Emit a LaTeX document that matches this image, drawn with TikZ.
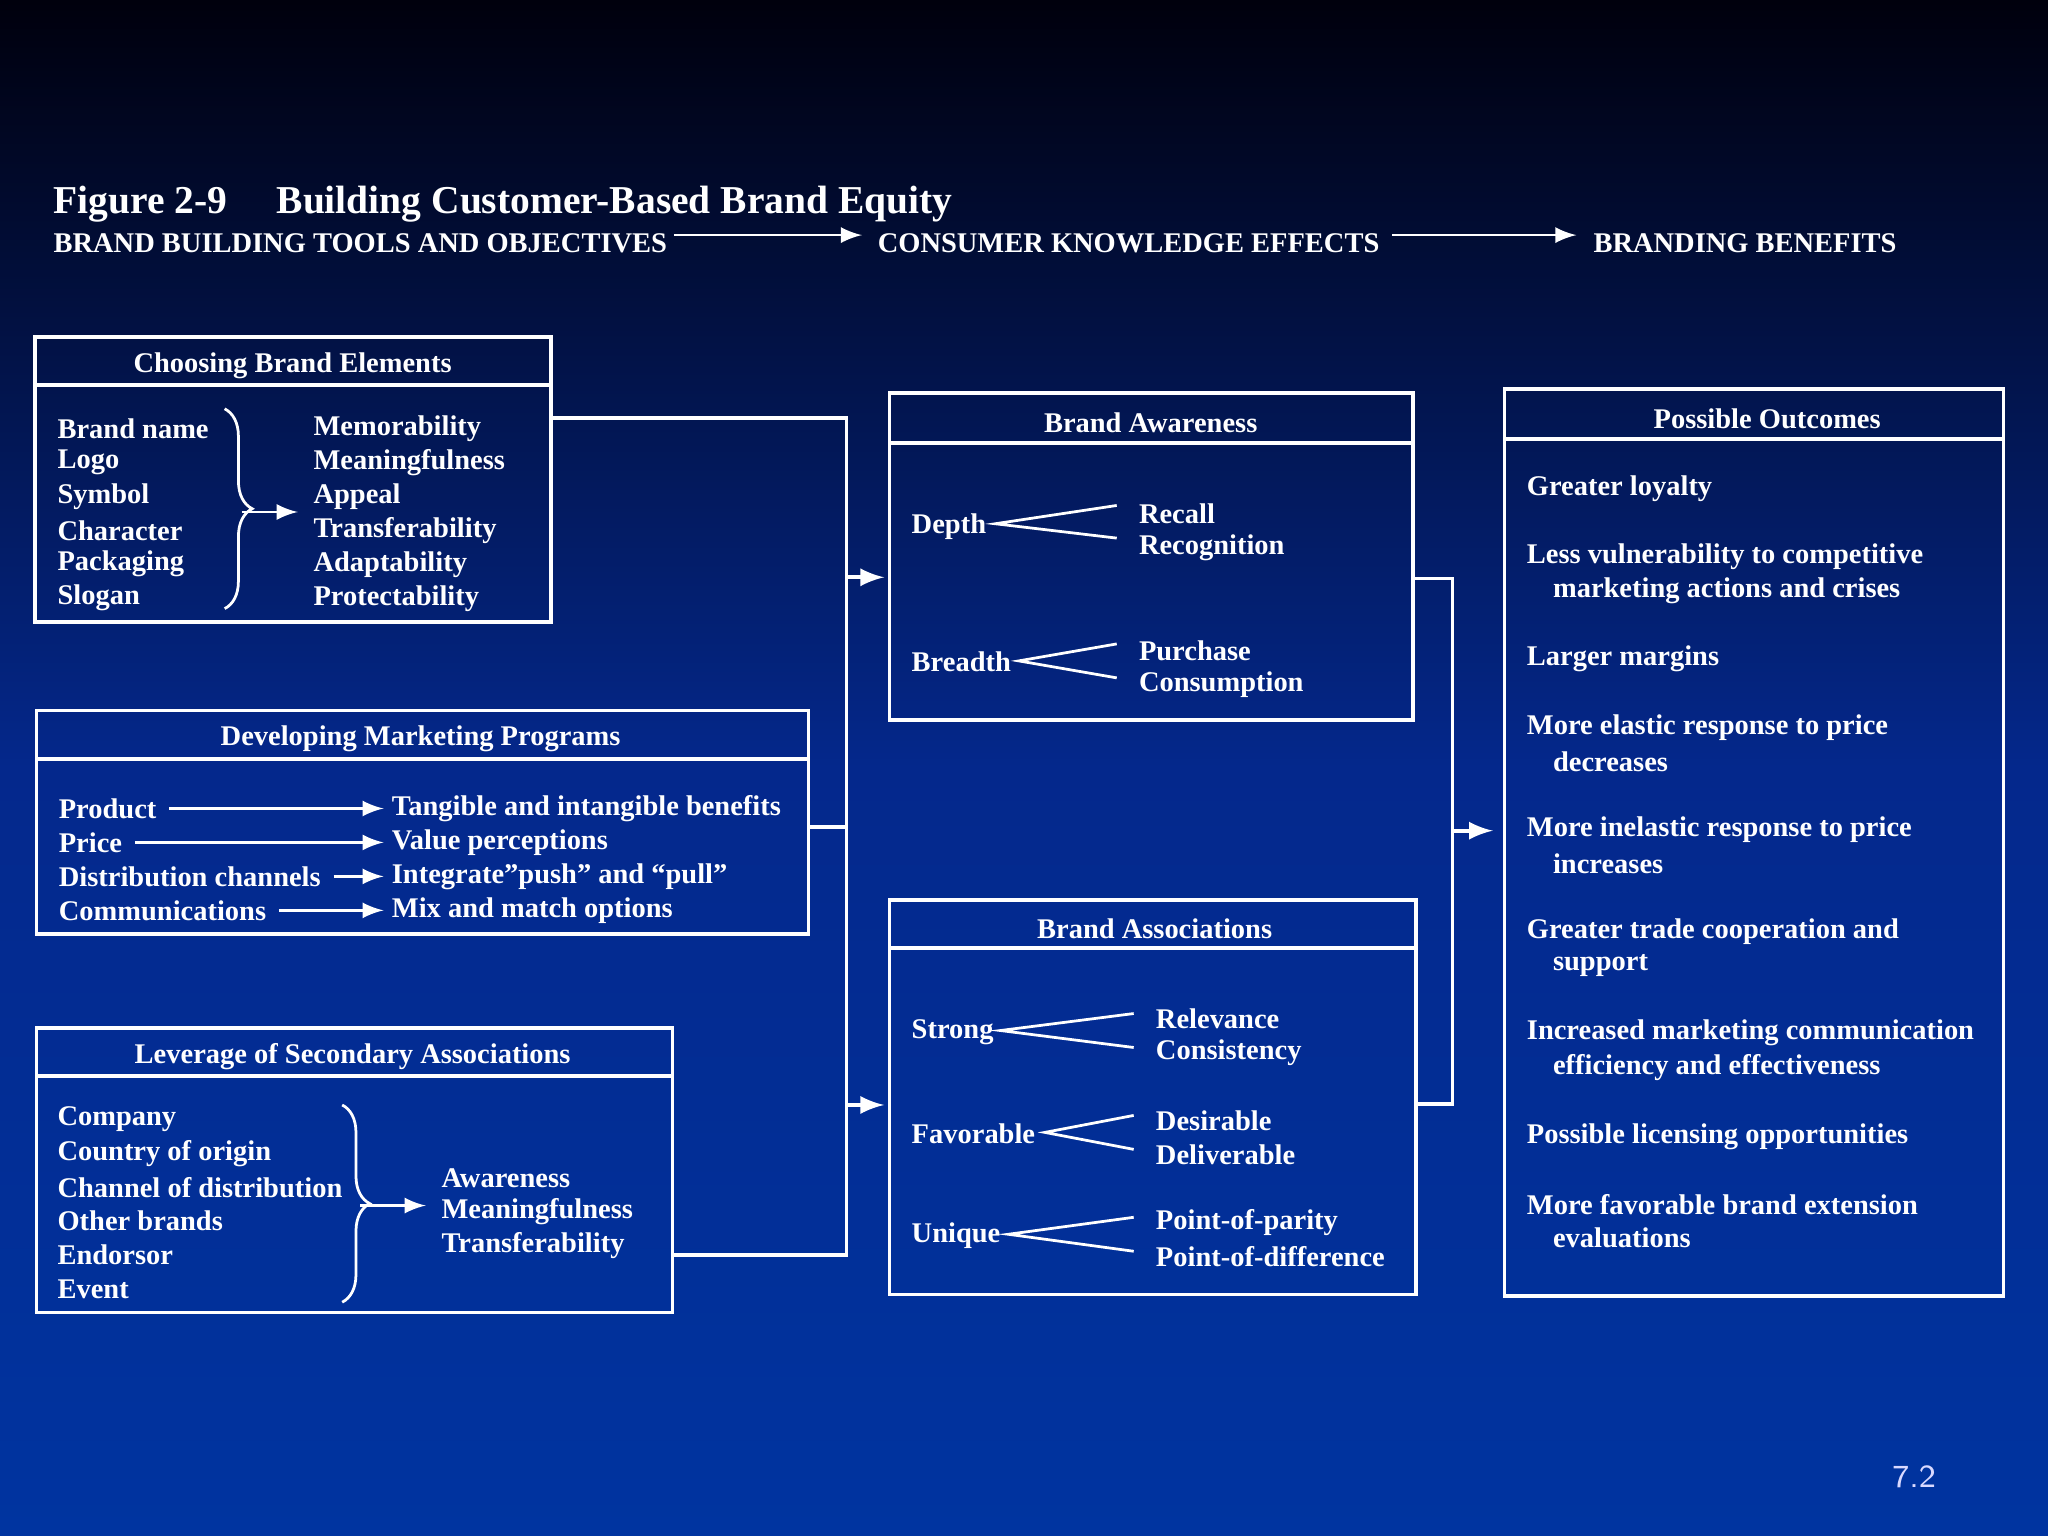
\documentclass[tikz,border=0pt]{standalone}
\usepackage{fontspec}
\setmainfont{Liberation Serif}
\usetikzlibrary{positioning}
\usetikzlibrary{decorations.pathreplacing}
\begin{document}
\begin{tikzpicture}[x=0.01cm, y=-0.01cm, line width=0.6pt,
  txt/.style={anchor=west, inner sep=0pt, text=white, font=\fontsize{6.2}{8}\selectfont\bfseries},
  head/.style={inner sep=0pt, text=white, font=\fontsize{6.2}{8}\selectfont\bfseries},
  box/.style={draw=white, line width=0.8pt},
  wire/.style={draw=white, line width=0.8pt},
  arr/.style={draw=white, line width=0.6pt, -latex},
  brc/.style={draw=white, decorate, decoration={brace, amplitude=6}}]
  \useasboundingbox (0,0) rectangle (1568,1176);
  \shade[top color=black!95!blue, bottom color={rgb,255:red,0;green,52;blue,160}, middle color={rgb,255:red,4;green,40;blue,140}] (0,0) rectangle (1568,1176);
  % titles
  \node[txt, font=\fontsize{8.6}{11}\selectfont\bfseries] (title) at (40,156) {Figure 2-9\quad\ Building Customer-Based Brand Equity};
  \node[txt] (h1) at (40,186) {BRAND BUILDING TOOLS AND OBJECTIVES};
  \node[txt] (h2) at (671,186) {CONSUMER KNOWLEDGE EFFECTS};
  \node[txt] (h3) at (1219,186) {BRANDING BENEFITS};
  \draw[arr] (516,180) -- (660,180);
  \draw[arr] (1066,180) -- (1207,180);
  \node[anchor=west, text=white!85!blue, font=\fontsize{7}{8}\sffamily] (pg) at (1436,1131) {7.2};
  % boxes
  \draw[box] (27,258) rectangle (422,476); \draw[box] (27,295) -- (422,295);
  \node[head] (cbe) at (224,280) {Choosing Brand Elements};
  \draw[box] (28,544) rectangle (619,715); \draw[box] (28,581) -- (619,581);
  \node[head] (dmp) at (322,566) {Developing Marketing Programs};
  \draw[box] (28,787) rectangle (515,1005); \draw[box] (28,824) -- (515,824);
  \node[head] (lsa) at (270,809) {Leverage of Secondary Associations};
  \draw[box] (681,301) rectangle (1082,551); \draw[box] (681,339) -- (1082,339);
  \node[head] (baw) at (881,324) {Brand Awareness};
  \draw[box] (681,689) rectangle (1084,991); \draw[box] (681,726) -- (1084,726);
  \node[head] (bas) at (884,711) {Brand Associations};
  \draw[box] (1152,298) rectangle (1534,992); \draw[box] (1152,336) -- (1534,336);
  \node[head] (po) at (1353,321) {Possible Outcomes};
  % choosing brand elements
  \foreach \a/\b [count=\i from 0] in {Brand name/Memorability, Logo/Meaningfulness, Symbol/Appeal, Character/Transferability, Packaging/Adaptability, Slogan/Protectability} {
    \node[txt] at (43,328+26*\i) {\a};
    \node[txt] at (239,328+26*\i) {\b};
  }
  \draw[brc] (172,313) -- (172,466);
  \draw[arr] (185,392) -- (228,392);
  % developing marketing programs
  \foreach \a/\b/\n [count=\i from 0] in {Product/Tangible and intangible benefits/pa, Price/Value perceptions/pb, Distribution channels/Integrate”push” and “pull”/pc, Communications/Mix and match options/pd} {
    \node[txt] (\n) at (44,619+26*\i) {\a};
    \node[txt] (\n r) at (299,619+26*\i) {\b};
    \draw[arr] ([xshift=2.5pt]\n.east) -- ([xshift=-1.5pt]\n r.west);
  }
  % leverage of secondary associations
  \foreach \a [count=\i from 0] in {Company, Country of origin, Channel of distribution, Other brands, Endorsor, Event}
    \node[txt] at (43,857+26*\i) {\a};
  \foreach \a [count=\i from 0] in {Awareness, Meaningfulness, Transferability}
    \node[txt] at (337,902+26*\i) {\a};
  \draw[brc] (262,846) -- (262,997);
  \draw[arr] (276,923) -- (326,923);
  % brand awareness
  \node[txt] (dep) at (697,403) {Depth};
  \node[txt] at (871,393) {Recall};
  \node[txt] at (871,419) {Recognition};
  \draw[white] (855,387) -- (762,401) -- (855,412);
  \node[txt] (bre) at (697,507) {Breadth};
  \node[txt] at (871,498) {Purchase};
  \node[txt] at (871,524) {Consumption};
  \draw[white] (855,493) -- (780,506) -- (855,519);
  % brand associations
  \foreach \a/\b/\c/\y/\x in {Strong/Relevance/Consistency/789/766, Favorable/Desirable/Deliverable/867/800, Unique/Point-of-parity/Point-of-difference/945/772} {
    \node[txt] at (697,\y+1) {\a};
    \node[txt] at (884,\y-9) {\b};
    \node[txt] at (884,\y+17) {\c};
    \draw[white] (868,\y-13) -- (\x,\y) -- (868,\y+13);
  }
  % possible outcomes
  \foreach \t/\y in {Greater loyalty/374, Less vulnerability to competitive/426, Larger margins/504, More elastic response to price/557, More inelastic response to price/635, Greater trade cooperation and/713, Increased marketing communication/791, Possible licensing opportunities/870, More favorable brand extension/922}
    \node[txt] at (1168,\y) {\t};
  \foreach \t/\y in {marketing actions and crises/452, decreases/583, increases/661, support/739, efficiency and effectiveness/817, evaluations/948}
    \node[txt] at (1188,\y) {\t};
  % connectors
  \coordinate (j1) at (648,320);
  \coordinate (j2) at (648,961);
  \draw[wire] (422,320) -- (j1) -- (j2) -- (515,961);
  \draw[wire] (619,633) -- (648,633);
  \draw[arr, line width=0.8pt] (648,442) -- (677,442);
  \draw[arr, line width=0.8pt] (648,846) -- (677,846);
  \coordinate (k1) at (1112,443);
  \coordinate (k2) at (1112,845);
  \draw[wire] (1082,443) -- (k1) -- (k2) -- (1084,845);
  \draw[arr, line width=0.8pt] (1112,636) -- (1143,636);
\end{tikzpicture}
\end{document}
